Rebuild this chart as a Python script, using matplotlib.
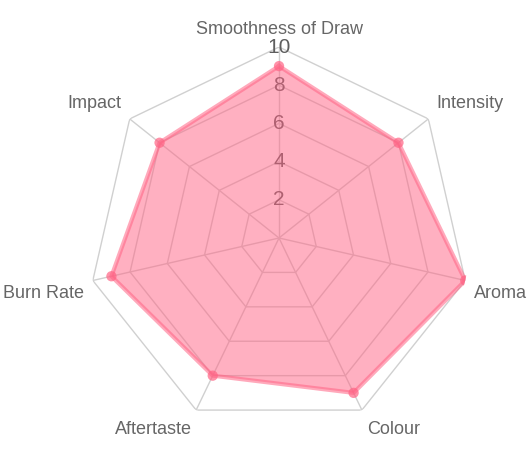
import numpy as np
import matplotlib
matplotlib.use("Agg")
import matplotlib.pyplot as plt

plt.rcParams['font.family'] = ['Liberation Sans', 'DejaVu Sans']

labels = ["Smoothness of Draw", "Intensity", "Aroma", "Colour",
          "Aftertaste", "Burn Rate", "Impact"]
values = [9, 8, 10, 9, 8, 9, 8]
ticks = [2, 4, 6, 8, 10]

# label offsets (pixels) from outer vertex, and alignment
label_pos = [((0, 13), 'center'), ((8, 11), 'left'), ((9, -18), 'left'),
             ((5, -24), 'left'), ((-4, -24), 'right'), ((-9, -18), 'right'),
             ((-8, 11), 'right')]

n = len(labels)
theta = np.linspace(0, 2 * np.pi, n, endpoint=False)
theta_c = np.append(theta, theta[0])

fig = plt.figure(figsize=(5.29, 4.71), dpi=100)
ax = fig.add_axes([0.1664, 0.0892, 0.7221, 0.811], projection='polar')
ax.set_theta_offset(np.pi / 2)
ax.set_theta_direction(-1)
ax.set_ylim(0, 10)
ax.grid(False)
ax.spines['polar'].set_visible(False)
ax.set_xticks([])
ax.set_yticks([])
ax.patch.set_alpha(0)

grid_col = '#d0d0d0'
for r in ticks:
    ax.plot(theta_c, [r] * (n + 1), color=grid_col, lw=1, zorder=1)
for t in theta:
    ax.plot([t, t], [0, 10], color=grid_col, lw=1, zorder=1)

for r in ticks:
    ax.text(0, r, str(r), ha='center', va='center', fontsize=15,
            color='#5e5e5e', zorder=2)

pink = (1, 99 / 255, 132 / 255)
vals_c = values + values[:1]
ax.fill(theta_c, vals_c, color=pink + (0.5,), lw=0, zorder=3)
ax.plot(theta_c, vals_c, color=pink + (0.55,), lw=3, zorder=4,
        solid_joinstyle='round')
ax.scatter(theta, values, s=55, color=pink + (0.7,), edgecolor='none',
           zorder=5)

for t, lab, (off, ha) in zip(theta, labels, label_pos):
    ax.annotate(lab, xy=(t, 10), xytext=off, textcoords='offset pixels',
                ha=ha, va='baseline', fontsize=13, color='#666666',
                annotation_clip=False)

fig.savefig('out.png', dpi=100)
